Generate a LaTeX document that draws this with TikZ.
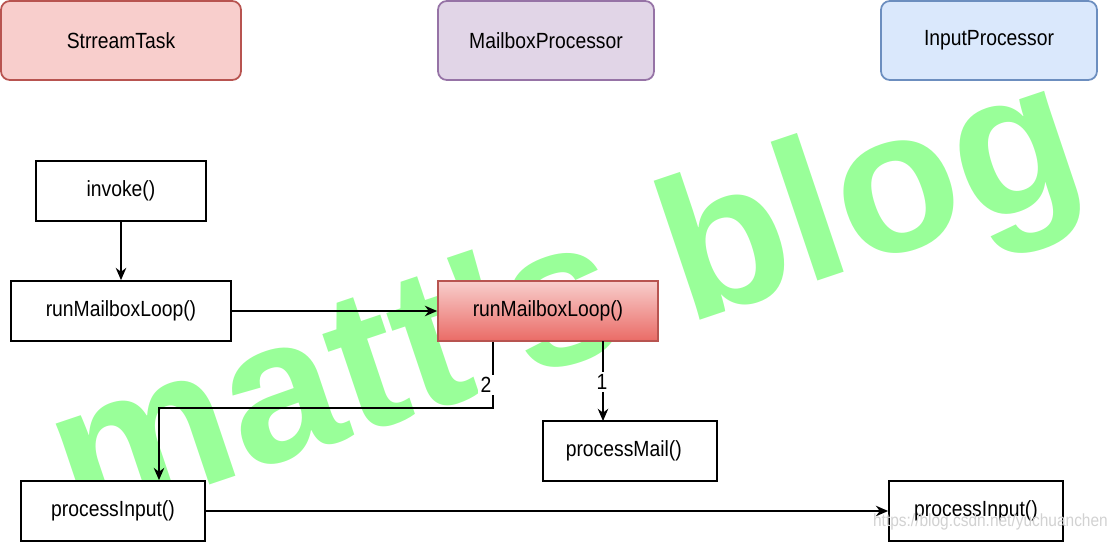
\documentclass[tikz,border=0pt]{standalone}
\usepackage{fontspec}
\setmainfont[FakeStretch=0.88]{Liberation Sans}
\newfontfamily\wmfont{Liberation Sans}
\usetikzlibrary{arrows.meta}
\definecolor{rf}{HTML}{F8CECC}\definecolor{rs}{HTML}{B85450}
\definecolor{pf}{HTML}{E1D5E7}\definecolor{ps}{HTML}{9673A6}
\definecolor{bf}{HTML}{DAE8FC}\definecolor{bs}{HTML}{6C8EBF}
\definecolor{rd}{HTML}{EA6B66}\definecolor{wm}{HTML}{99FF99}
\begin{document}
\begin{tikzpicture}[x=0.02cm,y=-0.02cm,
  box/.style={draw,fill=white,line width=1pt,minimum height=1.2cm,inner sep=0pt,font=\fontsize{12.5}{14}\selectfont},
  hdr/.style={box,rounded corners=5pt,minimum height=1.58cm,minimum width=4.32cm},
  lbl/.style={font=\fontsize{12.5}{14}\selectfont,fill=white,inner sep=1.5pt},
  arr/.style={-{Stealth[length=7pt,width=6pt]},line width=0.8pt}]
\useasboundingbox (0,0) rectangle (1120,542);
\node[text=wm,font=\wmfont\fontsize{115}{118}\bfseries\selectfont,rotate=18.6] (w) at (568,310) {matt's blog};
\node[hdr,fill=rf,draw=rs,minimum width=4.8cm] (st) at (121,40.5) {StrreamTask};
\node[hdr,fill=pf,draw=ps] (mp) at (546,40.5) {MailboxProcessor};
\node[hdr,fill=bf,draw=bs] (ip) at (989,40.5) {InputProcessor};
\node[box,minimum width=3.4cm] (inv) at (121,191) {invoke()};
\node[box,minimum width=4.4cm] (rl) at (121,311) {runMailboxLoop()};
\node[box,minimum width=4.4cm,draw=rs,top color=rf,bottom color=rd] (rr) at (548,311) {runMailboxLoop()};
\node[box,minimum width=3.48cm] (pm) at (630,451) {\hspace*{-0.25cm}processMail()};
\node[box,minimum width=3.68cm] (pi1) at (113,511) {processInput()};
\node[box,minimum width=3.48cm] (pi2) at (976,511) {processInput()};
\draw[arr] (inv) -- (rl);
\draw[arr] (rl) -- (rr);
\coordinate (c1) at (493,408);
\coordinate (c2) at (159,408);
\draw[arr] (rr.south -| c1) -- (c1) -- (c2) -- (c2 |- pi1.north);
\node[lbl] (l2) at (486,385) {2};
\draw[arr] (603,341) -- (603,421);
\node[lbl] (l1) at (602,382) {1};
\draw[arr] (pi1) -- (pi2);
\node[text=gray!35,font=\fontsize{10}{12}\selectfont,anchor=east] (w2) at (1114,522) {https://blog.csdn.net/yuchuanchen};
\end{tikzpicture}
\end{document}
